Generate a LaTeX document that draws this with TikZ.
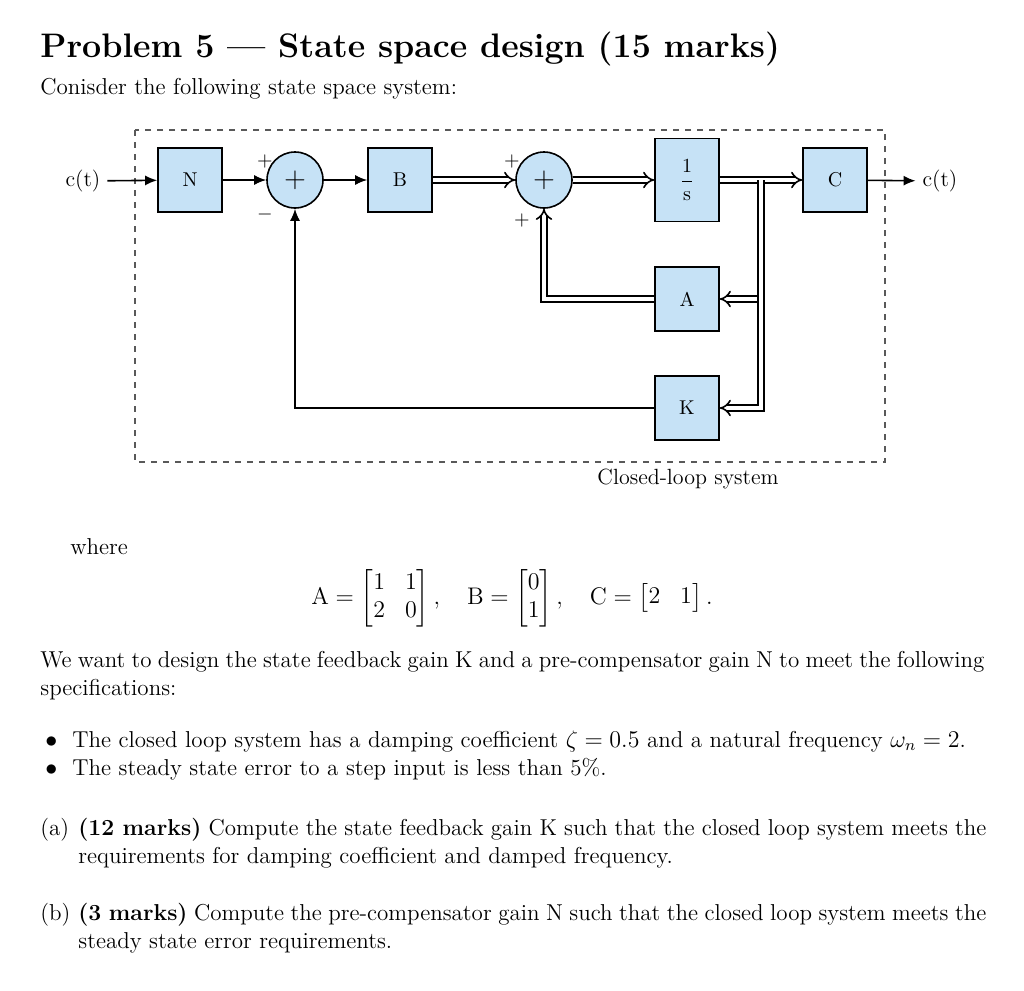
\documentclass[tikz,border=0pt]{standalone}
\usepackage{amsmath}
\usetikzlibrary{arrows.meta}
\definecolor{blk}{RGB}{198,226,246}
\begin{document}
\begin{tikzpicture}[x=0.5pt,y=-0.5pt,
  box/.style={draw,thick,fill=blk,minimum width=32pt,minimum height=32pt,inner sep=0pt,font=\fontsize{10}{11}\selectfont},
  sum/.style={draw,thick,fill=blk,circle,minimum size=28pt,inner sep=0pt},
  sig/.style={thick,-{Latex[length=6pt,width=5pt]}},
  vec/.style={double,double distance=2pt,-{Implies},thick},
  lbl/.style={font=\fontsize{11}{12}\selectfont},
  txt/.style={anchor=north west,inner sep=0pt,text width=472pt,align=justify,font=\fontsize{11.5}{14}\selectfont}]
\useasboundingbox (0,0) rectangle (1024,991);
\draw[thick,dashed,gray!70!black] (135,130) rectangle (885,462);
\node[box] (N) at (190,180) {N};
\node[sum] (s1) at (295,180) {\Large$+$};
\node[box] (B) at (400,180) {B};
\node[sum] (s2) at (544,180) {\Large$+$};
\node[box,minimum height=41.5pt] (I) at (687,180) {$\dfrac{1}{\mathrm{s}}$};
\node[box] (C) at (835,180) {C};
\node[box] (A) at (687,299) {A};
\node[box] (K) at (687,408) {K};
\node[lbl] (in) at (83,181) {c(t)};
\node[lbl] (out) at (940,181) {c(t)};
\coordinate (j) at (761,180);
\node[lbl] (cl) at (688,479) {Closed-loop system};
\draw[sig] (in) -- (N);
\draw[sig] (N) -- (s1);
\draw[sig] (s1) -- (B);
\draw[vec] (B) -- (s2);
\draw[vec] (s2) -- (I);
\draw[vec] (I) -- (C);
\draw[sig] (C) -- (out);
\draw[vec] (j) |- (A);
\draw[vec] (j) |- (K);
\draw[vec] (A) -| (s2);
\draw[sig] (K) -| (s1);
\node at (265,161) {$+$};
\node at (265,214) {$-$};
\node at (512,161) {$+$};
\node at (522,220) {$+$};
\node[anchor=base west,inner sep=0pt,font=\fontsize{17}{20}\selectfont\bfseries] (t) at (40,57) {Problem 5 --- State space design (15 marks)};
\node[txt] (p1) at (40,78) {Conisder the following state space system:};
\node[txt] (p2) at (70,538) {where};
\node[font=\fontsize{11.5}{14}\selectfont] (eq) at (512,598) {$\mathrm{A}=\begin{bmatrix}1&1\\2&0\end{bmatrix},\quad \mathrm{B}=\begin{bmatrix}0\\1\end{bmatrix},\quad \mathrm{C}=\begin{bmatrix}2&1\end{bmatrix}.$};
\node[txt] (p3) at (40,651) {We want to design the state feedback gain K and a pre-compensator gain N to meet the following specifications:};
\node[txt,text width=465pt] (b1) at (45,730) {$\bullet$\ \ The closed loop system has a damping coefficient $\zeta=0.5$ and a natural frequency $\omega_n=2$.\\
$\bullet$\ \ The steady state error to a step input is less than 5\%.};
\node[txt,text width=20pt] (la) at (40,818) {(a)};
\node[txt,text width=454pt] (pa) at (78,818) {\textbf{(12 marks)} Compute the state feedback gain K such that the closed loop system meets the requirements for damping coefficient and damped frequency.};
\node[txt,text width=20pt] (lb) at (40,903) {(b)};
\node[txt,text width=454pt] (pb) at (78,903) {\textbf{(3 marks)} Compute the pre-compensator gain N such that the closed loop system meets the steady state error requirements.};
\end{tikzpicture}
\end{document}
